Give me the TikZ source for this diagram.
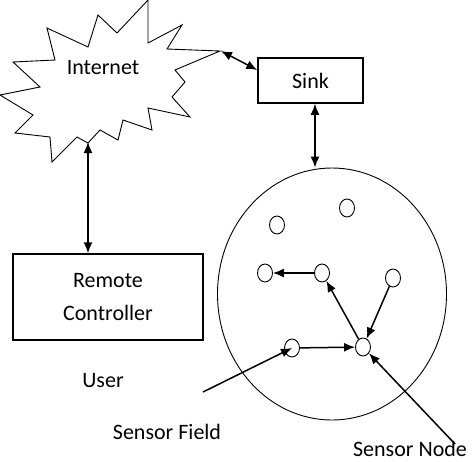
\documentclass[tikz,border=0pt]{standalone}
\usepackage{fontspec}
\setmainfont{Carlito}
\usepackage{tikz}
\usetikzlibrary{arrows.meta}
\usetikzlibrary{shapes.geometric}
\tikzset{>={Latex[length=11pt,width=9pt]}}
\tikzstyle{lbl} = [draw = none, inner sep = 1, font = \fontsize{22}{33}\selectfont]
\tikzstyle{box} = [draw, line width = 1.5pt, align = center, inner sep = 0, font = \fontsize{22}{33}\selectfont]
\tikzstyle{mote} = [draw, ellipse, line width = 0.9pt, minimum width = 15, minimum height = 18, inner sep = 0]
\tikzstyle{lnk} = [line width = 1.5pt]

\begin{document}
\begin{tikzpicture}[x=1pt, y=-1pt]
\useasboundingbox (0,0) rectangle (474,461);
% internet cloud
\draw [line width = 0.9pt] (148,0) -- (148,43) -- (182,25) -- (167,49) -- (220,51) -- (175,70)
  -- (185,82) -- (172,97) -- (190,117) -- (148,108) -- (152,130) -- (123,120) -- (118,140)
  -- (100,130) -- (88,143) -- (77,137) -- (52,162) -- (50,137) -- (15,133) -- (33,115)
  -- (0,95) -- (40,87) -- (13,62) -- (55,60) -- (47,28) -- (88,47) -- (98,15) -- (117,33) -- cycle;
\node [lbl] (net) at (103,68) {Internet};
\coordinate (netR) at (221,51);
\coordinate (netB) at (88,142);
\node [box, minimum width = 105, minimum height = 45] (sink) at (310.5,80.5) {Sink};
\node [box, minimum width = 190, minimum height = 86] (rc) at (108,297) {Remote\\Controller};
\node [lbl] (user) at (103,381) {User};
\node [lbl] (sfield) at (167,432) {Sensor Field};
\node [lbl] (snode) at (410,449) {Sensor Node};
% sensor field
\node [draw, ellipse, line width = 0.9pt, minimum width = 229, minimum height = 252] (field) at (332,294) {};
\node [mote] (m1) at (277,225) {};
\node [mote] (m2) at (347,208) {};
\node [mote] (m3) at (265,273) {};
\node [mote] (m4) at (322,273) {};
\node [mote] (m5) at (292,348) {};
\node [mote] (m6) at (393,278) {};
\node [mote] (m7) at (363,347) {};
\coordinate (sfTail) at (203,392);
\coordinate (snTail) at (455,444);
% links
\draw [<->, lnk] (netR) to ([yshift=10.5pt]sink.west);
\draw [<->, lnk] (netB) to (netB |- rc.north);
\draw [<->, lnk] ([xshift=4.5pt]sink.south) to ([xshift=4.5pt]sink.south |- field.north);
\draw [->, lnk] (m4) to (m3);
\draw [->, lnk] (m7) to (m4);
\draw [->, lnk] (m6) to (m7);
\draw [->, lnk] (m5) to (m7);
\draw [->, lnk] (sfTail) to (m5.center);
\draw [->, lnk] (snTail) to (m7);
\end{tikzpicture}
\end{document}
